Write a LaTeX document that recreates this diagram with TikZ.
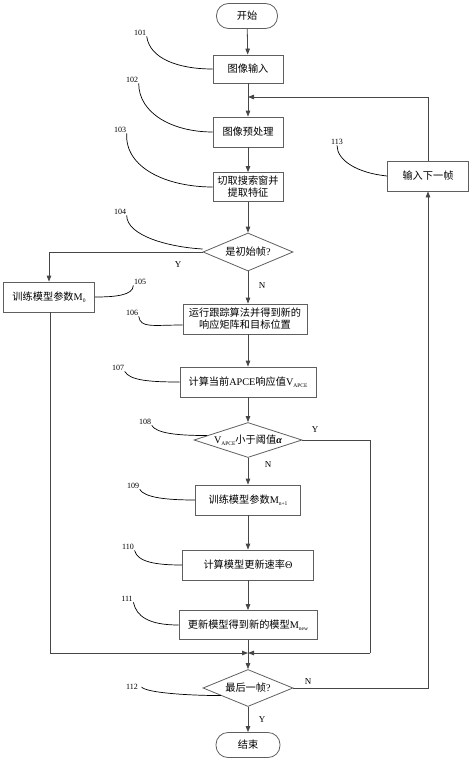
\documentclass[tikz,border=0pt]{standalone}
\usepackage{fontspec}
\setmainfont{Liberation Serif}
\newfontfamily\cjk{Noto Sans CJK SC}
\usetikzlibrary{arrows.meta,shapes.geometric,calc}
\newcommand\mysub[1]{\raisebox{-1.6pt}{\fontsize{5.5}{5.5}\selectfont #1}}
\definecolor{boxgray}{RGB}{95,95,95}
\definecolor{linegray}{RGB}{70,70,70}
\tikzset{
  every node/.style={font=\fontsize{10.2}{12}\selectfont},
  box/.style={draw=boxgray,line width=0.8pt,inner sep=1pt,align=center},
  term/.style={box,rounded corners=12pt},
  dia/.style={draw=boxgray,line width=0.8pt,diamond,aspect=3,inner sep=0pt},
  lab/.style={font=\fontsize{8}{9}\selectfont,inner sep=0.5pt},
  yn/.style={font=\fontsize{9}{10}\selectfont,inner sep=0pt},
  arr/.style={draw=linegray,line width=0.8pt,-{Triangle[length=6pt,width=4.5pt]}},
  ln/.style={draw=linegray,line width=0.8pt},
  lead/.style={draw=black,line width=0.7pt},
}
\begin{document}
\begin{tikzpicture}[x=1pt,y=-1pt]
\useasboundingbox (0,0) rectangle (474,763);
% nodes
\node[term,minimum width=61pt,minimum height=25pt] (start) at (247,16) {\cjk 开始};
\node[box,minimum width=70pt,minimum height=28pt] (b101) at (248,69) {\cjk 图像输入};
\node[box,minimum width=70pt,minimum height=30pt] (b102) at (248,132) {\cjk 图像预处理};
\node[box,minimum width=70pt,minimum height=29pt] (b103) at (248,187) {\cjk 切取搜索窗并\\\cjk 提取特征};
\node[dia,minimum width=90pt,minimum height=38pt] (d104) at (248,252) {{\cjk 是初始帧}?};
\node[box,minimum width=91pt,minimum height=30pt] (b105) at (49,297) {{\cjk 训练模型参数}M\mysub{0}};
\node[box,minimum width=124pt,minimum height=30pt] (b106) at (245,319) {\cjk 运行跟踪算法并得到新的\\\cjk 响应矩阵和目标位置};
\node[box,minimum width=136pt,minimum height=30pt] (b107) at (248,382) {{\cjk 计算当前}APCE{\cjk 响应值}V\mysub{APCE}};
\node[dia,minimum width=108pt,minimum height=35pt] (d108) at (248,440) {V\mysub{APCE}{\cjk 小于阈值}{\bfseries\itshape α}};
\node[box,minimum width=105pt,minimum height=30pt] (b109) at (248,500) {{\cjk 训练模型参数}M\mysub{n+1}};
\node[box,minimum width=131pt,minimum height=30pt] (b110) at (248,565) {{\cjk 计算模型更新速率}Θ};
\node[box,minimum width=138pt,minimum height=29pt] (b111) at (248,625) {{\cjk 更新模型得到新的模型}M\mysub{new}};
\node[dia,minimum width=90pt,minimum height=37pt] (d112) at (248,688) {{\cjk 最后一帧}?};
\node[term,minimum width=64pt,minimum height=25pt] (end) at (248,745) {\cjk 结束};
\node[box,minimum width=81pt,minimum height=30pt] (b113) at (428,176) {\cjk 输入下一帧};
% coordinates
\coordinate (m) at (248,653);
\coordinate (r) at (370,653);
\coordinate (fb) at (248,97);
% step labels
\node[lab] (l101) at (140,33) {101};
\node[lab] (l102) at (132,80) {102};
\node[lab] (l103) at (120,130) {103};
\node[lab] (l104) at (120,212) {104};
\node[lab] (l105) at (140,282) {105};
\node[lab] (l106) at (132,313) {106};
\node[lab] (l107) at (118,368) {107};
\node[lab] (l108) at (145,422) {108};
\node[lab] (l109) at (133,486) {109};
\node[lab] (l110) at (128,547) {110};
\node[lab] (l111) at (127,599) {111};
\node[lab] (l112) at (132,687) {112};
\node[lab] (l113) at (337,142) {113};
% Y/N labels
\node[yn] (y104) at (178,265) {Y};
\node[yn] (n104) at (262,286) {N};
\node[yn] (y108) at (315,430) {Y};
\node[yn] (n108) at (268,465) {N};
\node[yn] (n112) at (308,682) {N};
\node[yn] (y112) at (262,720) {Y};
% connectors
\draw[arr] (start) -- (b101);
\draw[arr] (b101) -- (b102);
\draw[arr] (b102) -- (b103);
\draw[arr] (b103) -- (d104);
\draw[arr] (d104.west) -| (b105.north);
\draw[arr] (d104.south) -- (d104.south |- b106.north);
\draw[arr] (d104.south |- b106.south) -- (b107.north);
\draw[arr] (b107) -- (d108);
\draw[arr] (d108.south) -- (b109.north);
\draw[arr] (b109) -- (b110);
\draw[arr] (b110) -- (b111);
\draw[arr] (b111.south) -- (d112.north);
\draw[arr] (b105.south -| 50,0) |- (m);
\draw[ln] (d108.east) -| (r);
\draw[arr] (r) -- (m);
\draw[arr] (d112.east) -| (b113.south);
\draw[arr] (b113.north) |- (fb);
\draw[arr] (d112.south) -- (end);
% lead curves
\draw[lead] (l101.south east) .. controls +(3,22) and +(-35,0) .. (b101.west);
\draw[lead] (l102.south east) .. controls +(0,30) and +(-40,0) .. (b102.west);
\draw[lead] (l103.south east) .. controls +(-2,35) and +(-45,0) .. (b103.west);
\draw[lead] (l104.south east) .. controls +(0,20) and +(-35,-2) .. ([yshift=3pt]d104.west);
\draw[lead] (l105.south west) .. controls +(0,10) and +(20,0) .. (b105.east);
\draw[lead] (l106.south east) .. controls +(2,12) and +(-30,0) .. ([yshift=-6pt]b106.west);
\draw[lead] (l107.south east) .. controls +(5,9) and +(-30,0) .. (b107.west);
\draw[lead] (l108.south east) .. controls +(5,8) and +(-30,0) .. ($(d108.west)!0.25!(d108.north)$);
\draw[lead] (l109.south east) .. controls +(5,8) and +(-30,0) .. (b109.west);
\draw[lead] (l110.south east) .. controls +(3,12) and +(-25,0) .. (b110.west);
\draw[lead] (l111.south east) .. controls +(3,14) and +(-30,0) .. (b111.west);
\draw[lead] ([xshift=3pt]l112.east) .. controls +(5,6) and +(-30,0) .. ($(d112.west)!0.4!(d112.south)$);
\draw[lead] (l113.south) .. controls +(0,15) and +(-30,-3) .. (b113.west);
\end{tikzpicture}
\end{document}
